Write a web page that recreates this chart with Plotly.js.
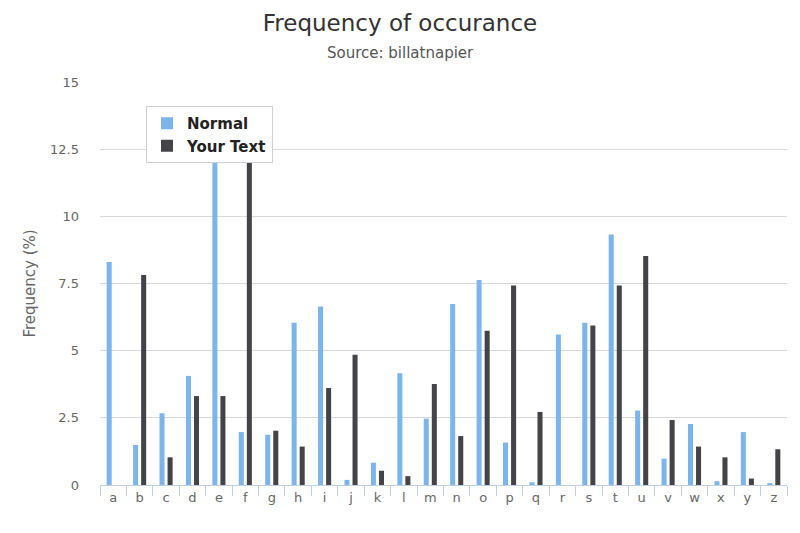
<!DOCTYPE html>
<html>
<head>
<meta charset="utf-8">
<script src="https://cdn.plot.ly/plotly-3.0.1.min.js"></script>
<style>html,body{margin:0;padding:0;background:#fff;}#chart{width:800px;height:533px;}</style>
</head>
<body>
<div id="chart"></div>
<script>
const letters = ['a','b','c','d','e','f','g','h','i','j','k','l','m','n','o','p','q','r','s','t','u','v','w','x','y','z'];
const normalValues = [8.3,1.49,2.67,4.06,12.7,1.97,1.87,6.04,6.64,0.19,0.83,4.16,2.47,6.74,7.63,1.58,0.1,5.6,6.04,9.32,2.77,0.98,2.27,0.14,1.97,0.07];
const yourTextValues = [0,7.82,1.03,3.31,3.31,13.0,2.02,1.43,3.61,4.85,0.53,0.33,3.76,1.82,5.74,7.43,2.72,0,5.94,7.43,8.52,2.42,1.43,1.03,0.24,1.33];
const yTicks = [0,2.5,5,7.5,10,12.5,15];
const yTickLabels = ['0','2.5','5','7.5','10','12.5','15'];

const font = 'DejaVu Sans, Verdana, sans-serif';

const traces = [
  {type:'bar', name:'Normal', x:letters, y:normalValues, marker:{color:'#7cb5ec'}},
  {type:'bar', name:'Your Text', x:letters, y:yourTextValues, marker:{color:'#434348'}}
];

const layout = {
  width:800, height:533,
  paper_bgcolor:'#fff', plot_bgcolor:'#fff',
  font:{family:font, color:'#666'},
  margin:{l:100, r:13, t:82, b:48},
  barmode:'group', bargap:0.39, bargroupgap:0.375,
  showlegend:true,
  title:{text:'Frequency of occurance', font:{family:font, size:23, color:'#333'}, x:0.5, xanchor:'center', y:1-23/533, yref:'container', yanchor:'middle'},
  annotations:[{text:'Source: billatnapier', xref:'paper', yref:'paper', x:(400-100)/687, xanchor:'center', y:1+(82-53)/403, yanchor:'middle', showarrow:false, font:{family:font, size:15, color:'#555'}}],
  xaxis:{type:'category', tickson:'boundaries', ticks:'outside', ticklen:10, tickcolor:'#c0d0e0', showline:true, linecolor:'#c0d0e0', linewidth:1, showgrid:false, tickfont:{size:13, color:'#666'}, fixedrange:true},
  yaxis:{range:[0,15], tickvals:yTicks, ticktext:yTickLabels, showgrid:true, gridcolor:'#d8d8d8', zeroline:false, showline:false, ticks:'', ticklabelstandoff:20, tickfont:{size:13, color:'#666'},
    title:{text:'Frequency (%)', font:{size:15, color:'#666'}, standoff:10}},
  legend:{x:(146-100)/687, y:1-(106-82)/403, xanchor:'left', yanchor:'top', bgcolor:'#fff', bordercolor:'#cfcfcf', borderwidth:1, font:{family:font, size:15, color:'#222', weight:'bold'}, itemwidth:30, tracegroupgap:0}
};

Plotly.newPlot('chart', traces, layout, {displayModeBar:false, staticPlot:true});
</script>
</body>
</html>
